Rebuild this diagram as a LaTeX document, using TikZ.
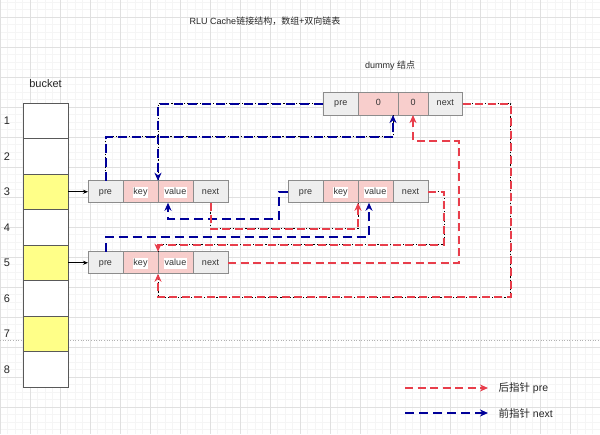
\documentclass[tikz,border=0pt]{standalone}
\usepackage{fontspec}
\setmainfont{Liberation Sans}
\newfontfamily\cjk{Noto Sans CJK SC}
\usepackage{tikz}
\usetikzlibrary{arrows.meta,positioning}
\definecolor{linkred}{RGB}{232,62,75}
\definecolor{linkblue}{RGB}{0,0,153}
\definecolor{datafill}{RGB}{248,206,204}
\definecolor{ptrfill}{RGB}{238,238,238}
\definecolor{cellline}{RGB}{140,140,140}
\definecolor{slotyellow}{RGB}{255,255,136}
\newcommand{\whitebg}[1]{{\setlength{\fboxsep}{0.8pt}\colorbox{white}{\strut#1}}}
\newcommand{\fsz}[1]{\fontsize{#1}{#1}\selectfont}

\begin{document}
\begin{tikzpicture}[
    x=1pt, y=-1pt,
    font=\fsz{9},
    >=Stealth,
    cell/.style={draw=cellline, minimum width=35pt, minimum height=22pt,
                 inner sep=0pt, outer sep=0pt, line width=0.7pt, text=black!80,
                 text height=6.6pt, text depth=1.9pt},
    ptrcell/.style={cell, fill=ptrfill},
    datacell/.style={cell, fill=datafill},
    slot/.style={draw=black!65, minimum width=45pt, minimum height=35.5pt,
                 inner sep=0pt, outer sep=0pt, line width=0.8pt},
    hook/.style={-{Stealth[length=5pt,width=4pt]}, line width=0.6pt},
    link/.style={line width=2pt, -{Stealth[length=8pt,width=7pt,inset=2.5pt]}},
    prelink/.style={link, draw=linkred, dash pattern=on 8pt off 4.5pt},
    nextlink/.style={link, draw=linkblue, dash pattern=on 9pt off 5pt},
    dots/.style={preaction={draw=black, line width=0.6pt,
                 dash pattern=on 1.2pt off 2pt, -}},
    gridminor/.style={draw=black!4, line width=0.4pt},
    gridmajor/.style={draw=black!12, line width=0.5pt},
    caption/.style={font=\fsz{9}, text=black!85}
]
\useasboundingbox (0,0) rectangle (600,434);
\fill[white] (0,0) rectangle (600,434);
% background grid
\foreach \gx in {0,7.5,...,600} \draw[gridminor] (\gx,0) -- (\gx,434);
\foreach \gy in {2,9.5,...,434} \draw[gridminor] (0,\gy) -- (600,\gy);
\foreach \gx in {0,30,...,600} \draw[gridmajor] (\gx,0) -- (\gx,434);
\foreach \gy in {17,47,...,434} \draw[gridmajor] (0,\gy) -- (600,\gy);
\draw[black!30, dotted, line width=0.6pt] (0,340) -- (600,340);

\node[caption] (title) at (265,21) {RLU Cache{\cjk 链接结构，数组+双向链表}};

% bucket array
\foreach \i/\c in {1/white,2/white,3/slotyellow,4/white,5/slotyellow,6/white,7/slotyellow,8/white} {
  \node[slot, fill=\c] (b\i) at (45.5,{103+35.5*(\i-0.5)}) {};
  \node[font=\fsz{11}, text=black!85] (n\i) at (7,{103+35.5*(\i-0.5)}) {\i};
}
\node[font=\fsz{11}, text=black!85, above=12pt of b1] (bucket) {bucket};

% node in slot 3
\node[ptrcell, right=20pt of b3] (apre) {pre};
\node[datacell, right=0pt of apre] (akey) {\whitebg{key}};
\node[datacell, right=0pt of akey] (aval) {\whitebg{value}};
\node[ptrcell, right=0pt of aval] (anext) {next};
% second node in slot 3
\node[ptrcell, right=60pt of anext] (bpre) {pre};
\node[datacell, right=0pt of bpre] (bkey) {\whitebg{key}};
\node[datacell, right=0pt of bkey] (bval) {\whitebg{value}};
\node[ptrcell, right=0pt of bval] (bnext) {next};
% node in slot 5
\node[ptrcell, right=20pt of b5] (cpre) {pre};
\node[datacell, right=0pt of cpre] (ckey) {\whitebg{key}};
\node[datacell, right=0pt of ckey] (cval) {\whitebg{value}};
\node[ptrcell, right=0pt of cval] (cnext) {next};
% dummy node
\node[ptrcell, minimum width=35.5pt, minimum height=23pt] (dpre) at (340.75,103.5) {pre};
\node[datacell, minimum width=39.5pt, minimum height=23pt, right=0pt of dpre] (dzeroa) {0};
\node[datacell, minimum width=30pt, minimum height=23pt, right=0pt of dzeroa] (dzerob) {0};
\node[ptrcell, minimum width=34.5pt, minimum height=23pt, right=0pt of dzerob] (dnext) {next};
\node[caption] (dummy) at (390,66) {dummy {\cjk 结点}};

\draw[hook] (b3.east) -- (apre.west);
\draw[hook] (b5.east) -- (cpre.west);

% next pointers
\coordinate (din) at ([xshift=-5pt]dzeroa.south east);
\coordinate (ain) at ([xshift=10pt]aval.south west);
\coordinate (bin) at ([xshift=11pt]bval.south west);
\draw[nextlink, dots] (dpre.west) -| (akey.north east);
\draw[nextlink, dots] (apre.north) -- ++(0,-44) -| (din);
\draw[nextlink] (bpre.west) -- ++(-9,0) -- ++(0,27) -| (ain);
\draw[nextlink] (cpre.north) -- ++(0,-15) -| (bin);

% pre pointers
\draw[prelink, dots] (anext.south) -- ++(0,26) -| (bkey.south east);
\draw[prelink, dots] (bnext.east) -- ++(16,0) -- ++(0,53) -| (ckey.north east);
\draw[prelink] (cnext.east) -- ++(231,0) -- ++(0,-122) -| (dzerob.south);
\draw[prelink, dots] (dnext.east) -- ++(48,0) -- ++(0,193.5) -| (ckey.south east);

% legend
\node[font=\fsz{10.5}, text=black!85, anchor=west] (lpre) at (495,388) {{\cjk 后指针} pre};
\node[font=\fsz{10.5}, text=black!85, anchor=west] (lnext) at (495,413) {{\cjk 前指针} next};
\coordinate (lpr) at (405,388);
\coordinate (lnx) at (405,413);
\draw[prelink] (lpr) -- ([xshift=-7pt]lpre.west);
\draw[nextlink] (lnx) -- ([xshift=-7pt]lnext.west);
\end{tikzpicture}
\end{document}
